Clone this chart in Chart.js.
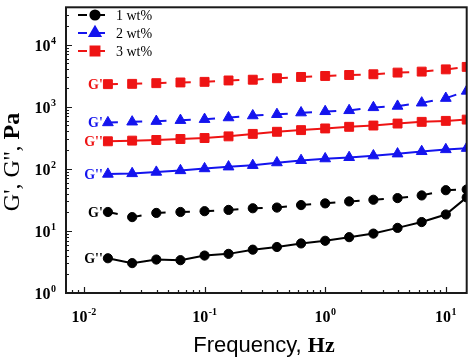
<!DOCTYPE html>
<html><head><meta charset="utf-8">
<script src="https://cdn.jsdelivr.net/npm/chart.js@4/dist/chart.umd.min.js"></script>
<style>html,body{margin:0;padding:0;background:#fff}canvas{display:block}</style>
</head><body>
<canvas id="c" width="474" height="357"></canvas>
<script>
// ---- data ----
const frequency = [0.0158,0.0251,0.0398,0.0631,0.1,0.158,0.251,0.398,0.631,1,1.58,2.51,3.98,6.31,10,14.9];
const gPrime1  = [20.2,16.7,19.5,20.2,20.8,21.8,23.2,23.8,26.1,27.8,29.9,31.8,33.8,37.3,45.3,46.5];
const gDouble1 = [3.63,3.03,3.46,3.38,4.01,4.27,4.99,5.51,6.29,6.94,7.94,9.06,11.2,13.9,18.4,34.7];
const gPrime2  = [557,572,585,606,629,669,720,755,803,842,873,975,1026,1157,1375,1795];
const gDouble2 = [82.4,84.2,88.7,94.0,101,108,114,126,137,146,153,163,175,191,205,215];
const gPrime3  = [2318,2343,2404,2467,2523,2657,2733,2886,3027,3140,3257,3342,3556,3689,4011,4395];
const gDouble3 = [278,285,292,303,314,334,366,396,421,448,476,499,537,572,593,622];
const legendLabels = ['1 wt%','2 wt%','3 wt%'];
const curveLabels = ["G'", "G''"];
const xTickExponents = [-2,-1,0,1];
const yTickExponents = [0,1,2,3,4];
const xTitle = ['Frequency, ', 'Hz'];
const yTitle = ["G', G'', ", 'Pa'];

// ---- styles ----
const BLACK = '#000000', BLUE = '#1414ee', RED = '#ee1414';
const SERIF = '"Liberation Serif", "Times New Roman", serif';
const SANS = '"Liberation Sans", Arial, sans-serif';
const series = [
  {name: legendLabels[0], color: BLACK, style: 'circle',   radius: 4.6, g1: gPrime1, g2: gDouble1},
  {name: legendLabels[1], color: BLUE,  style: 'triangle', radius: 6.2, g1: gPrime2, g2: gDouble2},
  {name: legendLabels[2], color: RED,   style: 'rect',     radius: 6.3, g1: gPrime3, g2: gDouble3}
];
const datasets = [];
series.forEach((s, k) => {
  [[s.g1, true], [s.g2, false]].forEach(([vals, dashed], j) => {
    datasets.push({
      label: s.name + (dashed ? " G'" : " G''"),
      data: frequency.map((f, i) => ({x: f, y: vals[i]})),
      borderColor: s.color, backgroundColor: s.color,
      pointBackgroundColor: s.color, pointBorderColor: s.color,
      borderWidth: 2, borderDash: dashed ? [10, 14.3] : [], borderDashOffset: 0,
      pointStyle: s.style, pointRadius: s.radius, pointHoverRadius: s.radius, pointBorderWidth: 1,
      tension: 0, clip: 0,
      _seriesIndex: k, _curve: j
    });
  });
});

function drawPow(ctx, exp, x, y, align, size) {
  const base = 'bold ' + size + 'px ' + SERIF;
  const sup = 'bold ' + Math.round(size * 0.62) + 'px ' + SERIF;
  const e = exp < 0 ? '-' + Math.abs(exp) : String(exp);
  ctx.font = base; const wb = ctx.measureText('10').width;
  ctx.font = sup; const ws = ctx.measureText(e).width;
  const tot = wb + ws + 0.5;
  let x0 = align === 'right' ? x - tot : x - tot / 2;
  ctx.textAlign = 'left'; ctx.textBaseline = 'alphabetic'; ctx.fillStyle = '#000';
  ctx.font = base; ctx.fillText('10', x0, y);
  ctx.font = sup; ctx.fillText(e, x0 + wb + 0.5, y - size * 0.45);
}

const decor = {
  id: 'decor',
  afterDatasetsDraw(chart) {
    const ctx = chart.ctx, a = chart.chartArea;
    const xs = chart.scales.x, ys = chart.scales.y;
    ctx.save();
    // frame
    ctx.strokeStyle = '#1a1a1a'; ctx.lineWidth = 2;
    ctx.strokeRect(a.left, a.top, a.right - a.left, a.bottom - a.top);
    // inward ticks
    ctx.lineWidth = 1.2; ctx.beginPath();
    for (let e = -3; e <= 1; e++) for (let m = 1; m <= 9; m++) {
      const v = m * Math.pow(10, e);
      if (v < xs.min || v > xs.max) continue;
      const px = Math.round(xs.getPixelForValue(v)) + 0.5;
      const L = m === 1 ? 6 : 3;
      ctx.moveTo(px, a.bottom); ctx.lineTo(px, a.bottom - L);
    }
    for (let e = 0; e <= 4; e++) for (let m = 1; m <= 9; m++) {
      const v = m * Math.pow(10, e);
      if (v < ys.min || v > ys.max) continue;
      const py = Math.round(ys.getPixelForValue(v)) + 0.5;
      const L = m === 1 ? 6 : 3;
      ctx.moveTo(a.left, py); ctx.lineTo(a.left + L, py);
    }
    ctx.stroke();
    // tick labels
    xTickExponents.forEach(e => drawPow(ctx, e, xs.getPixelForValue(Math.pow(10, e)), 322, 'center', 16));
    yTickExponents.forEach(e => drawPow(ctx, e, 56, ys.getPixelForValue(Math.pow(10, e)) + 6, 'right', 16));
    // x title
    ctx.textBaseline = 'alphabetic'; ctx.textAlign = 'left'; ctx.fillStyle = '#000';
    const f1 = '22px ' + SANS, f2 = 'bold 22px ' + SERIF;
    ctx.font = f1; const w1 = ctx.measureText(xTitle[0]).width;
    ctx.font = f2; const w2 = ctx.measureText(xTitle[1]).width;
    let tx = 264 - (w1 + w2) / 2;
    ctx.font = f1; ctx.fillText(xTitle[0], tx, 352);
    ctx.font = f2; ctx.fillText(xTitle[1], tx + w1, 352);
    // y title
    ctx.save(); ctx.translate(19, 162); ctx.rotate(-Math.PI / 2);
    const g1 = '24px ' + SERIF, g2 = 'bold 24px ' + SERIF;
    ctx.font = g1; const v1 = ctx.measureText(yTitle[0]).width;
    ctx.font = g2; const v2 = ctx.measureText(yTitle[1]).width;
    let ty = -(v1 + v2) / 2;
    ctx.font = g1; ctx.fillText(yTitle[0], ty, 0);
    ctx.font = g2; ctx.fillText(yTitle[1], ty + v1, 0);
    ctx.restore();
    // legend
    series.forEach((s, k) => {
      const ly = 15 + k * 18;
      ctx.strokeStyle = s.color; ctx.fillStyle = s.color; ctx.lineWidth = 2;
      ctx.beginPath(); ctx.moveTo(78, ly); ctx.lineTo(87, ly); ctx.moveTo(95, ly); ctx.lineTo(105, ly); ctx.stroke();
      Chart.helpers.drawPoint(ctx, {pointStyle: s.style, radius: s.radius, rotation: 0, borderWidth: 1}, 95, ly);
      ctx.fillStyle = '#000'; ctx.font = '14px ' + SERIF; ctx.textBaseline = 'middle'; ctx.textAlign = 'left';
      ctx.fillText(s.name, 116, ly + 1);
    });
    // curve labels at the first point of each curve
    chart.data.datasets.forEach((ds, i) => {
      const p = chart.getDatasetMeta(i).data[0];
      ctx.fillStyle = ds.borderColor; ctx.font = 'bold 14px ' + SERIF;
      ctx.textAlign = 'right'; ctx.textBaseline = 'middle';
      ctx.fillText(curveLabels[ds._curve], p.x - 5, p.y + 1);
    });
    ctx.restore();
  }
};

new Chart(document.getElementById('c'), {
  type: 'line',
  data: {datasets},
  options: {
    responsive: false, animation: false, events: [],
    layout: {padding: {left: 66, right: 4, top: 3, bottom: 64}},
    plugins: {legend: {display: false}, tooltip: {enabled: false}},
    scales: {
      x: {type: 'logarithmic', min: 0.0071, max: 14.9, display: false},
      y: {type: 'logarithmic', min: 1, max: 40100, display: false}
    }
  },
  plugins: [decor]
});
</script>
</body></html>
